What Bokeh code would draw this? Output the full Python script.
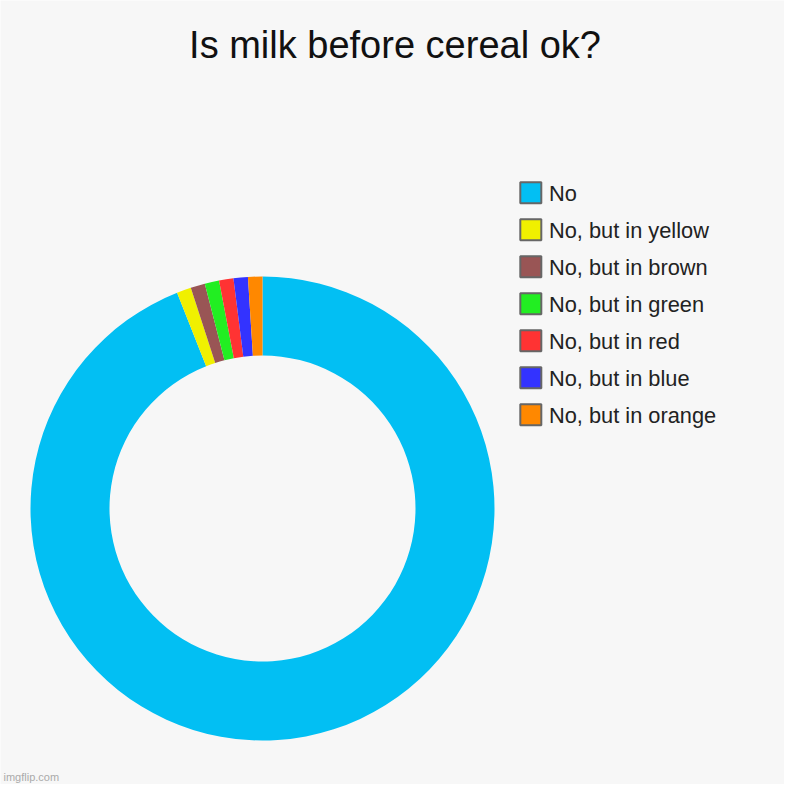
import numpy as np
from bokeh.plotting import figure
from bokeh.models import Range1d, ColumnDataSource
from bokeh.core.properties import value
from bokeh.embed import file_html
from bokeh.resources import INLINE

title = "Is milk before cereal ok?"
categories = ["No", "No, but in yellow", "No, but in brown", "No, but in green",
              "No, but in red", "No, but in blue", "No, but in orange"]
values = [94, 1, 1, 1, 1, 1, 1]
colors = ["#02BFF3", "#F0F000", "#995555", "#22EE22", "#FF3333", "#3333FF", "#FF8800"]

W = H = 784
p = figure(width=W, height=H, output_backend="svg", toolbar_location=None,
           x_range=Range1d(0, 784), y_range=Range1d(0, 784), min_border=0)
p.axis.visible = False
p.grid.visible = False
p.outline_line_color = None
p.background_fill_color = "#F7F7F7"
p.border_fill_color = "#F7F7F7"

def Y(v):
    return 784 - v

vals = np.array(values, dtype=float)
frac = vals / vals.sum()
cum = np.concatenate([[0], np.cumsum(frac)])
start = np.pi / 2 - cum[:-1] * 2 * np.pi
end = np.pi / 2 - cum[1:] * 2 * np.pi

cx, cy = 262, Y(508)
src = ColumnDataSource(dict(start=start, end=end, color=colors))
p.annular_wedge(x=cx, y=cy, inner_radius=153, outer_radius=232,
                start_angle="end", end_angle="start", fill_color="color",
                line_color=None, source=src)

# legend
n = len(categories)
ly = [192.3 + 37 * i for i in range(n)]
lsrc = ColumnDataSource(dict(x=[530.3] * n, y=[Y(v) for v in ly], color=colors,
                             label=categories, tx=[548.5] * n,
                             ty=[Y(v + 0.5) for v in ly]))
p.rect(x="x", y="y", width=21, height=21, fill_color="color", line_color="#666666",
       line_width=2, source=lsrc)
p.text(x="tx", y="ty", text="label", text_font=value("Liberation Sans"),
       text_font_size="21.8px", text_baseline="middle", text_color="#222222",
       source=lsrc)

p.text(x=[394.5], y=[Y(44)], text=[title], text_font=value("Liberation Sans"),
       text_font_size="38px", text_align="center", text_baseline="middle",
       text_color="#111111")
p.text(x=[3], y=[Y(776)], text=["imgflip.com"], text_font=value("Liberation Sans"),
       text_font_size="11px", text_baseline="middle", text_color="#AAAAAA")

open("out.html", "w").write(file_html(p, INLINE))
